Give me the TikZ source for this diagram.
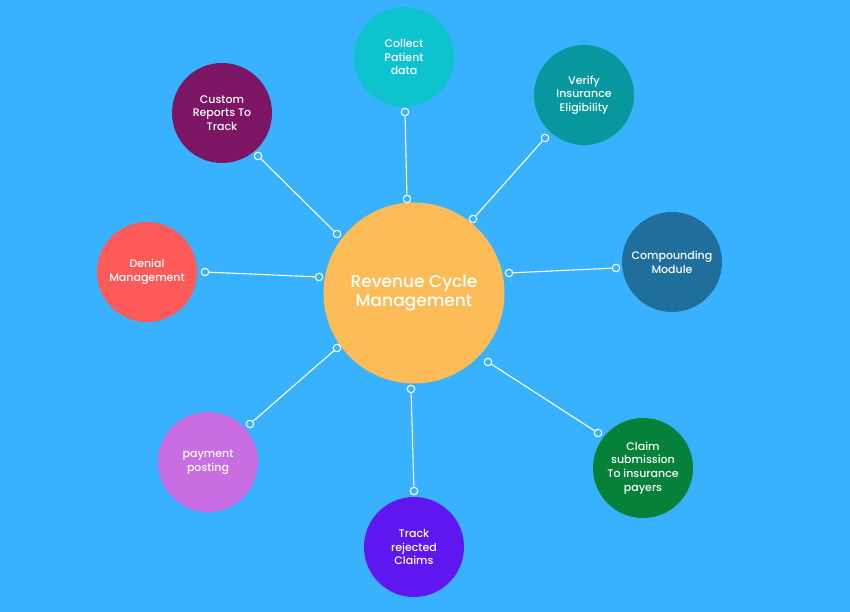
\documentclass[tikz,border=0pt]{standalone}
\usepackage{fontspec}
\setmainfont{Poppins}[UprightFont={* Medium}]
\usepackage{tikz}
\usetikzlibrary{positioning}

\definecolor{bgblue}{HTML}{38B1FE}
\definecolor{hubyellow}{HTML}{FDBC58}
\definecolor{cyanA}{HTML}{0CC3CE}
\definecolor{tealA}{HTML}{06979F}
\definecolor{navyA}{HTML}{1F6E9C}
\definecolor{greenA}{HTML}{05813A}
\definecolor{violetA}{HTML}{6016EE}
\definecolor{lilacA}{HTML}{C96DE3}
\definecolor{redA}{HTML}{FE5A5A}
\definecolor{plumA}{HTML}{7C1563}

\tikzset{
  hub/.style={circle, fill=hubyellow, minimum size=181pt, inner sep=0pt,
    text=white, align=center, font=\fontsize{17}{19.5}\selectfont},
  topic/.style={circle, minimum size=100pt, inner sep=0pt, text=white,
    align=center, font=\fontsize{11}{13.7}\selectfont},
  pin/.style={circle, draw=white, fill=bgblue, line width=1.1pt,
    minimum size=7.5pt, inner sep=0pt},
  link/.style={white, line width=1.1pt}
}

\begin{document}
\begin{tikzpicture}[x=1pt, y=-1pt]
  % canvas
  \fill[bgblue] (0,0) rectangle (850,612);
  \useasboundingbox (0,0) rectangle (850,612);
  % centre
  \node[hub] (rcm) at (414,293) {Revenue Cycle\\Management};
  % topics, clockwise from the top
  \node[topic, fill=cyanA] (collect) at (404,57) {Collect\\Patient\\data};
  \node[topic, fill=tealA] (verify) at (584,95) {Verify\\Insurance\\Eligibility};
  \node[topic, fill=navyA] (compound) at (672,262) {Compounding\\Module};
  \node[topic, fill=greenA] (claim) at (643,468) {Claim\\submission\\To insurance\\payers};
  \node[topic, fill=violetA] (track) at (414,547) {Track\\rejected\\Claims};
  \node[topic, fill=lilacA] (payment) at (208,462) {payment\\posting};
  \node[topic, fill=redA] (denial) at (147,272) {Denial\\Management};
  \node[topic, fill=plumA] (custom) at (222,113) {Custom\\Reports To\\Track};
  % end pins
  \node[pin] (collect-p) at (405,112) {};
  \node[pin] (collect-q) at (407,199) {};
  \node[pin] (verify-p) at (545,138) {};
  \node[pin] (verify-q) at (473,219) {};
  \node[pin] (compound-p) at (616,268) {};
  \node[pin] (compound-q) at (509,273) {};
  \node[pin] (claim-p) at (598,433) {};
  \node[pin] (claim-q) at (488,362) {};
  \node[pin] (track-p) at (414,491) {};
  \node[pin] (track-q) at (411,389) {};
  \node[pin] (payment-p) at (250,424) {};
  \node[pin] (payment-q) at (337,348) {};
  \node[pin] (denial-p) at (205,272) {};
  \node[pin] (denial-q) at (319,277) {};
  \node[pin] (custom-p) at (258,156) {};
  \node[pin] (custom-q) at (337,234) {};
  % links
  \foreach \t in {collect, verify, compound, claim, track, payment, denial, custom}
    \draw[link] (\t-p) -- (\t-q);
\end{tikzpicture}
\end{document}
